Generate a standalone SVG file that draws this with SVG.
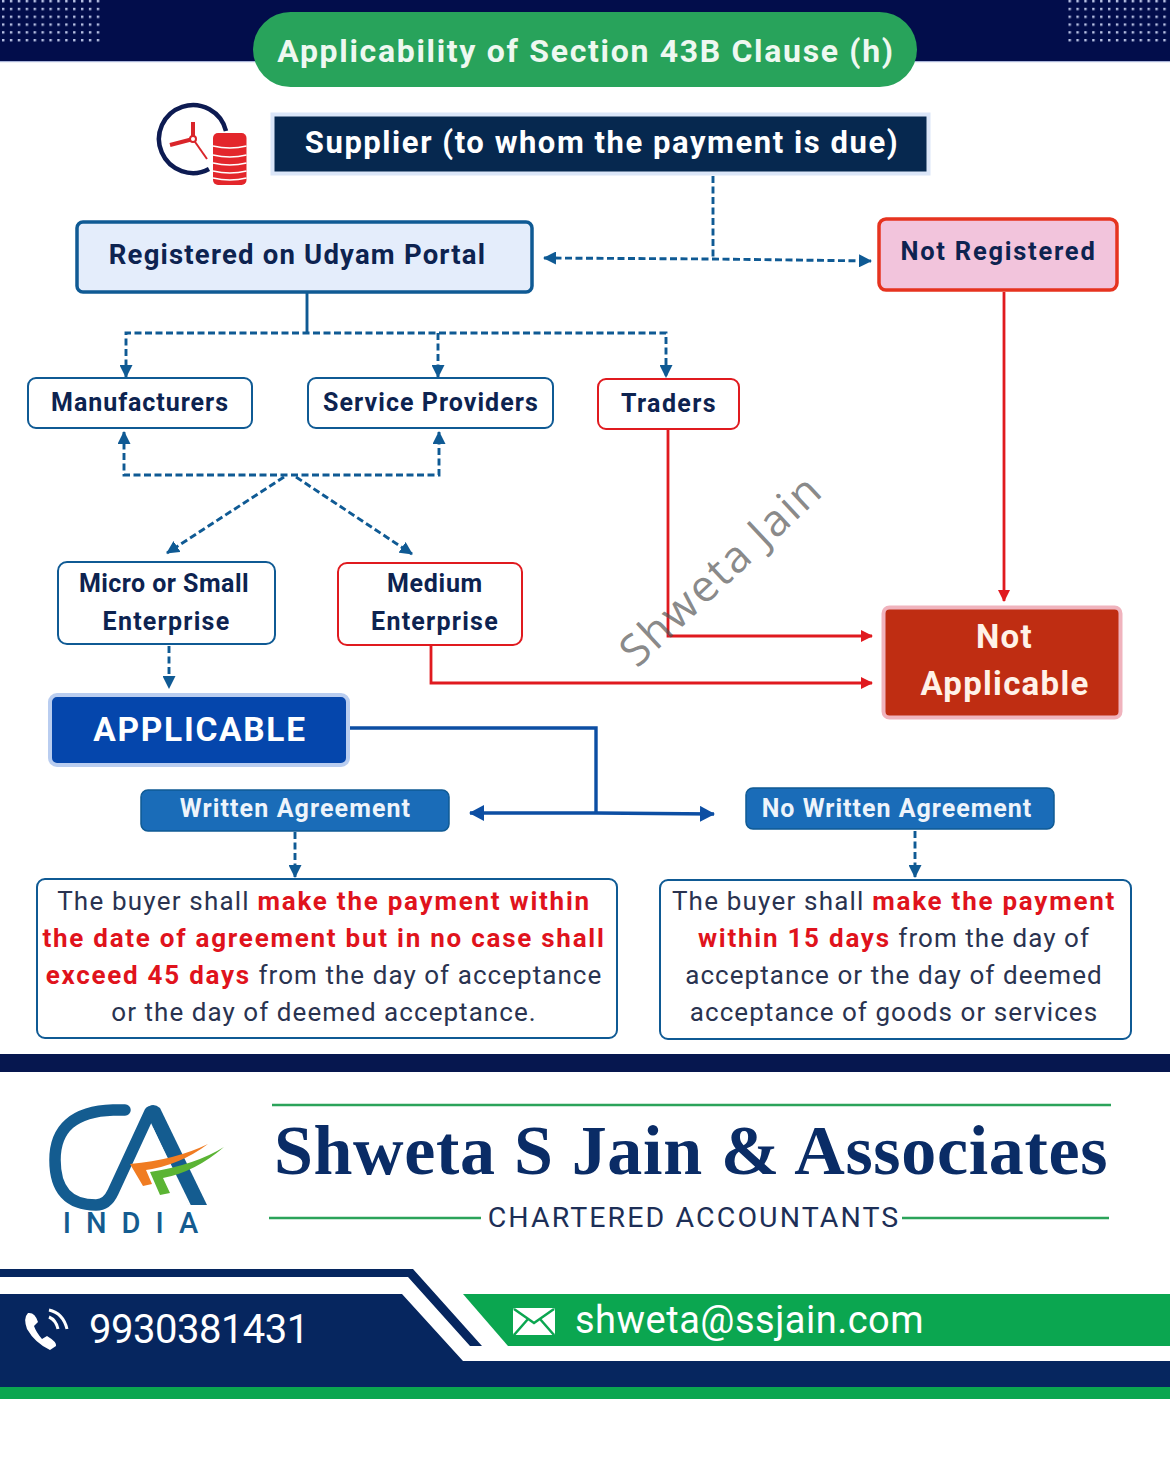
<svg xmlns="http://www.w3.org/2000/svg" width="1170" height="1463" viewBox="0 0 1170 1463">
<style>
text{font-family:"Roboto","Liberation Sans",sans-serif}
.b{font-weight:700}
.c{text-anchor:middle}
.nv{fill:#0d2350}
.w{fill:#fff}
.body{font-size:26px;letter-spacing:1.05px;fill:#2a3350;text-anchor:middle}
.r{fill:#e0131c;font-weight:700;letter-spacing:1.75px}
.node{font-size:25px;font-weight:700;fill:#0d2350;text-anchor:middle}
.dash{fill:none;stroke:#0f5a94;stroke-width:2.9;stroke-dasharray:7 3.5}
.red{fill:none;stroke:#e01a1f;stroke-width:2.8}
.blue{fill:none;stroke:#0c4ea3;stroke-width:3.4}
</style>
<defs>
<pattern id="dots" width="7.9" height="7.8" patternUnits="userSpaceOnUse"><rect x="2" y="0" width="2.4" height="2.4" fill="#b9c2e4"/></pattern>
<marker id="abd" markerWidth="13" markerHeight="13" refX="12" refY="6.500" orient="auto-start-reverse" markerUnits="userSpaceOnUse" viewBox="0 0 13 13"><path d="M0 0L13 6.500L0 13z" fill="#0f5a94"/></marker>
<marker id="ar" markerWidth="12" markerHeight="12" refX="11" refY="6" orient="auto" markerUnits="userSpaceOnUse" viewBox="0 0 12 12"><path d="M0 0L12 6L0 12z" fill="#e01a1f"/></marker>
<marker id="abl" markerWidth="15" markerHeight="16" refX="14" refY="8" orient="auto-start-reverse" markerUnits="userSpaceOnUse" viewBox="0 0 15 16"><path d="M0 0L15 8L0 16z" fill="#0c4ea3"/></marker>
</defs>
<rect width="1170" height="1463" fill="#fff"/>

<g id="header">
<rect width="1170" height="61" fill="#020d4b"/>
<rect y="61" width="1170" height="1.2" fill="#a9b4d8"/>
<rect x="0" y="0" width="104" height="44" fill="url(#dots)"/>
<rect x="1066" y="0" width="104" height="44" fill="url(#dots)"/>
<rect x="253" y="12" width="664" height="75" rx="37.5" fill="#28a35b"/>
<text x="586" y="62" class="b c" font-size="32" letter-spacing="1.68" fill="#eef8f0">Applicability of Section 43B Clause (h)</text>
</g>

<g id="icon">
<path d="M226 131A34 34 0 1 0 209 169" fill="none" stroke="#0d1b52" stroke-width="4.500"/>
<path d="M193 139L193 122M193 139L170 145" stroke="#d9252a" stroke-width="4" fill="none"/>
<path d="M193 139L207 159" stroke="#d9252a" stroke-width="2" fill="none"/>
<circle cx="193" cy="139" r="3" fill="#fff" stroke="#d9252a" stroke-width="2"/>
<rect x="213" y="133" width="33.500" height="52" rx="5" fill="#e3262b"/>
<path d="M213 146Q230 150 246.500 146M213 155Q230 159 246.500 155M213 163Q230 167 246.500 163M213 171Q230 175 246.500 171M213 178Q230 182 246.500 178" fill="none" stroke="#fff" stroke-width="1.500"/>
</g>

<g id="supplier">
<rect x="272.500" y="114.500" width="656" height="59" fill="#06284f" stroke="#dbe6f8" stroke-width="4"/>
<text x="602" y="153" class="b c w" font-size="31" letter-spacing="1.55">Supplier (to whom the payment is due)</text>
</g>

<g id="connectors">
<path class="dash" d="M713 176V259"/>
<path class="dash" d="M544 258L713 259L871 261" marker-start="url(#abd)" marker-end="url(#abd)"/>
<path d="M307 292V332" fill="none" stroke="#0f5a94" stroke-width="2.9"/>
<path class="dash" d="M126 377V333H666V377" marker-start="url(#abd)" marker-end="url(#abd)"/>
<path class="dash" d="M438 333V377" marker-end="url(#abd)"/>
<path class="dash" d="M124 432V475H439V432" marker-start="url(#abd)" marker-end="url(#abd)"/>
<path class="dash" d="M284 477L167 553" marker-end="url(#abd)"/>
<path class="dash" d="M296 477L412 554" marker-end="url(#abd)"/>
<path class="dash" d="M169 646V688" marker-end="url(#abd)"/>
<path class="red" d="M1004 292V601" marker-end="url(#ar)"/>
<path class="red" d="M668 430V636H872" marker-end="url(#ar)"/>
<path class="red" d="M431 645V683H872" marker-end="url(#ar)"/>
<path class="blue" d="M350 728H596V813"/>
<path class="blue" d="M470 813L596 813L714 814" marker-start="url(#abl)" marker-end="url(#abl)"/>
<path class="dash" d="M295 832V877" marker-end="url(#abd)"/>
<path class="dash" d="M915 831V877" marker-end="url(#abd)"/>
</g>

<g id="registered">
<rect x="77" y="222" width="455" height="70" rx="6" fill="#e4edfb" stroke="#0f5a94" stroke-width="3.500"/>
<text x="297.500" y="264" class="b c nv" font-size="27.500" letter-spacing="1.2">Registered on Udyam Portal</text>
</g>
<g id="not-registered">
<rect x="879" y="219" width="238" height="71" rx="7" fill="#f2c4dc" stroke="#e6331f" stroke-width="3.500"/>
<text x="998.500" y="260" class="b c nv" font-size="25.500" letter-spacing="1.75">Not Registered</text>
</g>
<g id="manufacturers">
<rect x="28" y="378" width="224" height="50" rx="8" fill="#fff" stroke="#0f5a94" stroke-width="2"/>
<text x="140" y="411" class="node" letter-spacing=".95">Manufacturers</text>
</g>
<g id="service-providers">
<rect x="308" y="378" width="245" height="50" rx="8" fill="#fff" stroke="#0f5a94" stroke-width="2"/>
<text x="431" y="411" class="node" letter-spacing="1.05">Service Providers</text>
</g>
<g id="traders">
<rect x="598" y="379" width="141" height="50" rx="8" fill="#fff" stroke="#e01a1f" stroke-width="2"/>
<text x="669" y="412" class="node" letter-spacing="1.4">Traders</text>
</g>
<g id="micro">
<rect x="58" y="562" width="217" height="82" rx="9" fill="#fff" stroke="#0f5a94" stroke-width="2"/>
<text x="164" y="592" class="node" letter-spacing=".45">Micro or Small</text>
<text x="166.500" y="630" class="node" letter-spacing="1.25">Enterprise</text>
</g>
<g id="medium">
<rect x="338" y="563" width="184" height="82" rx="9" fill="#fff" stroke="#e01a1f" stroke-width="2"/>
<text x="435" y="592" class="node" letter-spacing=".7">Medium</text>
<text x="435" y="630" class="node" letter-spacing="1.25">Enterprise</text>
</g>
<g id="not-applicable">
<rect x="883.500" y="607.500" width="237" height="110" rx="6" fill="#bf2d12" stroke="#f0b3bd" stroke-width="4"/>
<text x="1004.500" y="648" class="b c" font-size="33" letter-spacing="1.3" fill="#fff2e8">Not</text>
<text x="1005" y="695" class="b c" font-size="33" letter-spacing="1.3" fill="#fff2e8">Applicable</text>
</g>
<g id="applicable">
<rect x="50" y="695" width="298" height="70" rx="7" fill="#0546ac" stroke="#b9cdf0" stroke-width="4"/>
<text x="200" y="741" class="b c w" font-size="33.500" letter-spacing="1.7">APPLICABLE</text>
</g>
<g id="written">
<rect x="141" y="790" width="308" height="41" rx="7" fill="#1a6cb8" stroke="#0f5a94" stroke-width="1.500"/>
<text x="295.500" y="817" class="b c" font-size="25" letter-spacing="1.1" fill="#eef4fb">Written Agreement</text>
</g>
<g id="no-written">
<rect x="746" y="788" width="308" height="41" rx="7" fill="#1a6cb8" stroke="#0f5a94" stroke-width="1.500"/>
<text x="897" y="817" class="b c" font-size="25" letter-spacing="1" fill="#eef4fb">No Written Agreement</text>
</g>
<g id="written-text">
<rect x="37" y="879" width="580" height="159" rx="8" fill="#fff" stroke="#0f5a94" stroke-width="2"/>
<text x="324" y="910" class="body" letter-spacing="1.2" style="letter-spacing:1.2px">The buyer shall <tspan class="r">make the payment within</tspan></text>
<text x="324" y="947" class="body"><tspan class="r">the date of agreement but in no case shall</tspan></text>
<text x="324" y="984" class="body"><tspan class="r">exceed 45 days</tspan> from the day of acceptance</text>
<text x="324" y="1021" class="body">or the day of deemed acceptance.</text>
</g>
<g id="no-written-text">
<rect x="660" y="880" width="471" height="159" rx="8" fill="#fff" stroke="#0f5a94" stroke-width="2"/>
<text x="894" y="910" class="body" style="letter-spacing:1.2px">The buyer shall <tspan class="r">make the payment</tspan></text>
<text x="894" y="947" class="body"><tspan class="r">within 15 days</tspan> from the day of</text>
<text x="894" y="984" class="body">acceptance or the day of deemed</text>
<text x="894" y="1021" class="body">acceptance of goods or services</text>
</g>

<g id="divider"><rect y="1054" width="1170" height="18" fill="#06174f"/></g>

<g id="logo">
<path d="M125 1110H113Q55 1112 55 1160Q55 1205 96 1205Q107 1205 113 1192L150 1112" fill="none" stroke="#145c90" stroke-width="11.500" stroke-linecap="round"/>
<path d="M145 1110Q152 1101 160 1108L207 1205H189z" fill="#145c90"/>
<path d="M152 1128L194 1214" fill="none" stroke="#fff" stroke-width="2"/>
<path d="M130 1164Q175 1160 208 1144Q180 1165 146 1170L152 1184L143 1186z" fill="#f07c22"/>
<path d="M150 1172Q195 1165 224 1147Q195 1172 163 1178L170 1193L160 1195z" fill="#5bb434"/>
<text x="138" y="1233" class="c" font-weight="500" font-size="29" letter-spacing="15" fill="#145c90">INDIA</text>
</g>
<g id="brand">
<path d="M272 1105H1111" stroke="#2ba35a" stroke-width="2.500"/>
<text x="691" y="1174" text-anchor="middle" style="font-family:'Liberation Serif',serif" font-weight="700" font-size="70" letter-spacing=".67" fill="#0a2c66">Shweta S Jain &amp; Associates</text>
<path d="M269 1218H481M902 1218H1109" stroke="#2ba35a" stroke-width="2.500"/>
<text x="694" y="1227" class="c" font-size="28.500" letter-spacing="2.1" fill="#1d2f57">CHARTERED ACCOUNTANTS</text>
</g>
<g id="footer">
<path d="M0 1269H413L482 1346H470L408 1277H0z" fill="#06265f"/>
<path d="M0 1294H402L463 1361H1170V1387H0z" fill="#06265f"/>
<rect y="1387" width="1170" height="12" fill="#0ba650"/>
<path d="M463 1294H1170V1346H508z" fill="#0ba650"/>
<path d="M28 1313Q23 1318 27 1329Q35 1343 50 1350L56 1346Q57 1342 47 1336L42 1339Q36 1332 34 1326L38 1322Q35 1312 28 1313z" fill="#fff"/>
<path d="M49 1317Q56 1320 58 1329M49 1310Q63 1313 67 1329" fill="none" stroke="#fff" stroke-width="3"/>
<text x="89" y="1343" class="w" font-size="40" letter-spacing="-.5">9930381431</text>
<rect x="513" y="1308" width="42" height="27" rx="2" fill="#fff"/>
<path d="M514 1309L534 1323L554 1309M514 1335L528 1319M554 1335L540 1319" fill="none" stroke="#0ba650" stroke-width="2.500"/>
<text x="575" y="1333" class="w" font-size="38" letter-spacing=".5">shweta@ssjain.com</text>
</g>
<g id="watermark">
<text transform="translate(637 669) rotate(-43)" font-size="44" letter-spacing="2" fill="#555" fill-opacity=".7" style="font-family:'Open Sans',sans-serif">Shweta Jain</text>
</g>
</svg>
